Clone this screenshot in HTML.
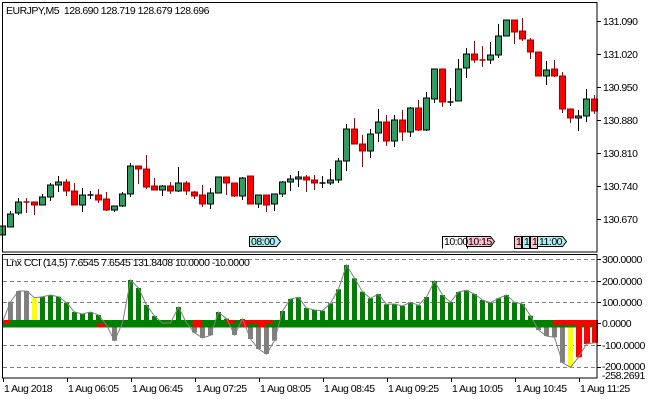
<!DOCTYPE html>
<html><head><meta charset="utf-8"><style>
html,body{margin:0;padding:0;background:#fff;width:650px;height:400px;overflow:hidden}
svg{display:block}
text{font-family:"Liberation Sans",sans-serif;font-size:10.5px;fill:#000;letter-spacing:-0.5px}
</style></head><body>
<svg id="s" width="650" height="400" xmlns="http://www.w3.org/2000/svg">
<rect width="650" height="400" fill="#fff"/>
<g id="grid" stroke="#808080" stroke-dasharray="4,3" stroke-width="1">
<line x1="3" x2="597" y1="259.5" y2="259.5"/>
<line x1="3" x2="597" y1="281.5" y2="281.5"/>
<line x1="3" x2="597" y1="302.5" y2="302.5"/>
<line x1="3" x2="597" y1="345.5" y2="345.5"/>
<line x1="3" x2="597" y1="367.5" y2="367.5"/>
</g>
<g id="cand"></g>
<g id="ind"></g>
<rect x="2.5" y="2.5" width="594.5" height="249.5" fill="none" stroke="#000"/>
<rect x="2.5" y="254.5" width="594.5" height="123.5" fill="none" stroke="#000"/>
<text x="6" y="14">EURJPY,M5&#160;&#160;128.690 128.719 128.679 128.696</text>
<text x="6" y="266">Lnx CCI (14,5) 7.6545 7.6545 131.8408 10.0000 -10.0000</text>
<g stroke="#000">
<line x1="597" x2="601" y1="21.5" y2="21.5"/><line x1="597" x2="601" y1="54.5" y2="54.5"/>
<line x1="597" x2="601" y1="87.5" y2="87.5"/><line x1="597" x2="601" y1="120.5" y2="120.5"/>
<line x1="597" x2="601" y1="153.5" y2="153.5"/><line x1="597" x2="601" y1="186.5" y2="186.5"/>
<line x1="597" x2="601" y1="219.5" y2="219.5"/>
<line x1="597" x2="601" y1="259.5" y2="259.5"/><line x1="597" x2="601" y1="281.5" y2="281.5"/>
<line x1="597" x2="601" y1="302.5" y2="302.5"/><line x1="597" x2="601" y1="323.5" y2="323.5"/>
<line x1="597" x2="601" y1="345.5" y2="345.5"/><line x1="597" x2="601" y1="367.5" y2="367.5"/>
<line x1="3.5" x2="3.5" y1="378" y2="382"/><line x1="67.5" x2="67.5" y1="378" y2="382"/>
<line x1="131.5" x2="131.5" y1="378" y2="382"/><line x1="195.5" x2="195.5" y1="378" y2="382"/>
<line x1="259.5" x2="259.5" y1="378" y2="382"/><line x1="323.5" x2="323.5" y1="378" y2="382"/>
<line x1="387.5" x2="387.5" y1="378" y2="382"/><line x1="451.5" x2="451.5" y1="378" y2="382"/>
<line x1="515.5" x2="515.5" y1="378" y2="382"/><line x1="579.5" x2="579.5" y1="378" y2="382"/>
</g>
<text x="603" y="25">131.090</text><text x="603" y="58">131.020</text><text x="603" y="91">130.950</text>
<text x="603" y="124">130.880</text><text x="603" y="157">130.810</text><text x="603" y="190">130.740</text>
<text x="603" y="223">130.670</text>
<text x="602" y="263">300.0000</text><text x="602" y="285">200.0000</text><text x="602" y="306">100.0000</text>
<text x="602" y="327">0.0000</text><text x="602" y="349">-100.0000</text><text x="602" y="370">-200.0000</text>
<text x="602" y="379">-258.2691</text>
<text x="4" y="392">1 Aug 2018</text><text x="68" y="392">1 Aug 06:05</text><text x="132" y="392">1 Aug 06:45</text>
<text x="196" y="392">1 Aug 07:25</text><text x="260" y="392">1 Aug 08:05</text><text x="324" y="392">1 Aug 08:45</text>
<text x="388" y="392">1 Aug 09:25</text><text x="452" y="392">1 Aug 10:05</text><text x="516" y="392">1 Aug 10:45</text>
<text x="580" y="392">1 Aug 11:25</text>
<g stroke="#000" stroke-width="1">
<path d="M249.5,236.5h27l4,5l-4,5h-27z" fill="#aeeef0"/>
<path d="M442.5,248.5v-12h25v12" fill="none"/>
<path d="M466.5,236.5h24l4,5l-4,5h-24z" fill="#ffc0cb"/>
<path d="M514.5,236.5h7v12h-7z" fill="#ffc0cb"/>
<path d="M522.5,236.5h7v12h-7z" fill="#aeeef0"/>
<path d="M530.5,236.5h7v12h-7z" fill="#ffc0cb"/>
<path d="M537.5,236.5h25l4,5l-4,5h-25z" fill="#aeeef0"/>
</g>
<text x="251" y="245">08:00</text><text x="444" y="245">10:00</text><text x="468" y="245">10:15</text>
<text x="516" y="245">1</text><text x="524" y="245">1</text><text x="532" y="245">1</text><text x="539" y="245">11:00</text>
</svg>
<script>
var C=[[226,226,235,235,'g'],[211,214,227,227,'g'],[198,202,213,215,'g'],[198,202,202,213,'x'],[202,202,205,215,'r'],[194,197,205,205,'g'],[183,185,197,201,'g'],[176,182,185,192,'g'],[179,182,191,196,'r'],[183,191,205,205,'r'],[188,195,205,212,'g'],[191,195,195,199,'k'],[189,195,200,203,'r'],[192,199,210,211,'r'],[206,206,210,212,'g'],[192,194,206,207,'g'],[163,166,194,197,'g'],[166,166,169,184,'r'],[155,169,187,189,'r'],[178,186,190,190,'r'],[185,186,190,196,'g'],[182,186,191,194,'r'],[167,183,191,192,'g'],[181,183,191,195,'r'],[191,192,196,199,'r'],[185,195,204,207,'r'],[188,193,204,209,'g'],[177,177,193,193,'g'],[177,177,183,195,'r'],[183,183,196,197,'r'],[177,178,196,200,'g'],[176,176,204,204,'r'],[195,195,204,208,'g'],[195,195,205,212,'r'],[194,194,204,211,'g'],[181,182,194,197,'g'],[175,179,182,191,'g'],[171,177,179,187,'g'],[175,177,180,192,'r'],[175,180,183,190,'r'],[176,183,183,188,'k'],[169,180,183,185,'g'],[158,161,180,183,'g'],[124,129,161,171,'g'],[118,129,144,144,'r'],[135,144,151,167,'r'],[129,134,151,158,'g'],[109,122,133,142,'g'],[115,122,141,146,'r'],[115,120,141,147,'g'],[110,120,132,141,'r'],[107,108,132,137,'g'],[100,108,130,131,'r'],[92,98,130,131,'g'],[69,69,99,103,'g'],[69,69,102,107,'r'],[88,102,102,106,'k'],[59,69,101,101,'g'],[48,54,68,78,'g'],[41,54,60,63,'r'],[46,60,60,67,'x'],[42,55,60,64,'g'],[24,36,55,58,'g'],[20,20,36,36,'g'],[20,20,32,44,'r'],[18,31,39,41,'r'],[38,40,52,59,'r'],[52,52,76,76,'r'],[61,70,76,85,'g'],[60,69,76,77,'r'],[72,76,109,113,'r'],[109,109,118,123,'r'],[110,116,118,131,'g'],[89,99,116,122,'g'],[95,99,111,114,'r']];
var h='';
C.forEach(function(c,i){var x=2.5+8*i;var wc=(c[4]=='r'||c[4]=='x')?'#a00000':'#000';
h+='<line x1="'+x+'" x2="'+x+'" y1="'+c[0]+'" y2="'+c[3]+'" stroke="'+wc+'"/>';
if(c[4]=='k'||c[4]=='x'){h+='<line x1="'+(x-3)+'" x2="'+(x+3)+'" y1="'+c[1]+'" y2="'+c[1]+'" stroke="'+wc+'" stroke-width="1.5"/>';}
else{var f=c[4]=='g'?'#2e9e5e':'#ff0000';var st=c[4]=='g'?'#000':'#a00000';
h+='<rect x="'+(x-3)+'" y="'+c[1]+'" width="6" height="'+Math.max(2,c[2]-c[1])+'" fill="'+f+'" stroke="'+st+'"/>';}});
document.getElementById('cand').innerHTML=h;
var V=[[322,'n'],[301.7,'y'],[291,'y'],[291,'y'],[297.7,'Y'],[296.7,'g'],[295,'g'],[296.7,'g'],[302.7,'g'],[312,'g'],[314,'g'],[312,'g'],[315,'g'],[325,'n'],[340.7,'y'],[323,'n'],[280,'g'],[288,'g'],[305,'g'],[316,'g'],[323,'n'],[323,'n'],[307,'g'],[323,'n'],[332.7,'y'],[338,'y'],[335.3,'y'],[312,'g'],[318.7,'g'],[335,'y'],[319,'g'],[339,'y'],[349,'y'],[354,'y'],[340.7,'y'],[311,'g'],[299,'g'],[297.3,'g'],[308,'g'],[310,'g'],[310.7,'g'],[303.3,'g'],[289.3,'g'],[265,'g'],[278.3,'g'],[291.7,'g'],[298.3,'g'],[294,'g'],[304.3,'g'],[304,'g'],[306,'g'],[302.3,'g'],[305.3,'g'],[297,'g'],[281,'g'],[295,'g'],[302.3,'g'],[292,'g'],[290.3,'g'],[294,'g'],[300,'g'],[302.7,'g'],[298.3,'g'],[295,'g'],[302.3,'g'],[304,'g'],[315.7,'g'],[330,'y'],[336,'y'],[337.3,'y'],[362.7,'y'],[367.3,'Y'],[357.3,'r'],[344,'r'],[342.7,'r']];
var col={g:'#008000',y:'#808080',Y:'#ffff00',r:'#ff0000'};h='';var pts=[];
V.forEach(function(v,i){var x=2.5+8*i;pts.push(x+','+v[0]);if(v[1]=='n')return;
var y0=v[0]<323?v[0]:320, y1=v[0]<323?323:v[0];if(v[1]=='r')y0=320;
h+='<rect x="'+(x-2.5)+'" y="'+y0+'" width="5" height="'+(y1-y0)+'" fill="'+col[v[1]]+'"/>';});
h+='<rect x="3" y="320" width="594" height="7.5" fill="#008000"/>';
[[3,10,320,323.5],[97,105,323.5,327.5],[193,202,320,327.5],[226,235,320,323.5],[240,273,320,323.5],[242,248,323.5,327.5],[258,266,323.5,327.5],[553,597,320,325]].forEach(function(r){h+='<rect x="'+r[0]+'" y="'+r[2]+'" width="'+(r[1]-r[0])+'" height="'+(r[3]-r[2])+'" fill="#ff0000"/>';});
[[570,578],[578,584],[586,592],[594,597]].forEach(function(r,k){if(k>0)h+='<rect x="'+(r[0]-1)+'" y="320" width="5" height="'+(V[71+k][0]-320)+'" fill="#ff0000"/>';});
h+='<polyline points="'+pts.join(' ')+'" fill="none" stroke="#808080" stroke-width="1"/>';
document.getElementById('ind').innerHTML=h;
</script>
</body></html>
